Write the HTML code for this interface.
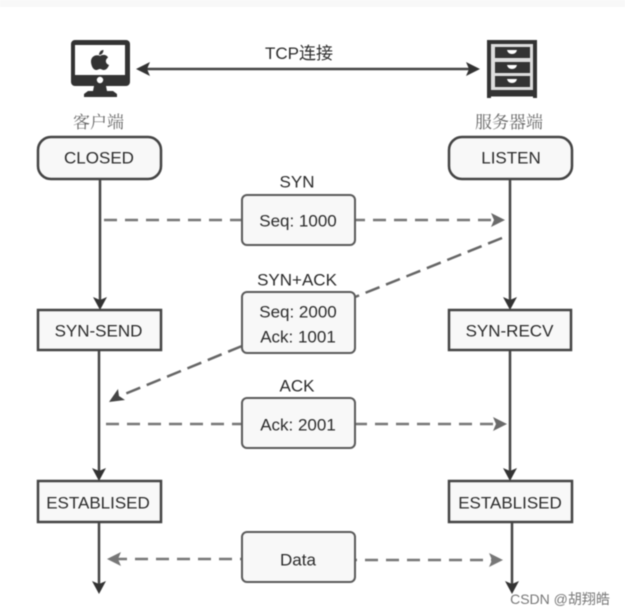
<!DOCTYPE html>
<html>
<head>
<meta charset="utf-8">
<style>
html,body{margin:0;padding:0;background:#fff;width:625px;height:616px;overflow:hidden}
svg{display:block;filter:blur(.5px)}
text{font-family:"Liberation Sans","Noto Sans CJK SC",sans-serif;fill:#2b2b2b;text-anchor:middle}
.b{fill:#f8f8f8;stroke:#444;stroke-width:2.500}
.m{fill:#f8f8f8;stroke:#5a5a5a;stroke-width:2}
.l{stroke:#444;stroke-width:2.500;fill:none}
.d{stroke:#777;stroke-width:2.500;fill:none;stroke-dasharray:13 8}
.dd{stroke:#666;stroke-width:2.500;fill:none;stroke-dasharray:15 7}
.c{fill:#666;font-family:"Noto Serif CJK SC","Liberation Serif",serif}
</style>
</head>
<body>
<svg width="625" height="616" viewBox="0 0 625 616" xmlns="http://www.w3.org/2000/svg">
<rect x="0" y="0" width="625" height="7" fill="#f8f8f8"/>

<!-- monitor -->
<rect x="71" y="40" width="59" height="46" rx="4" fill="#333"/>
<rect x="75" y="45" width="50" height="30" fill="#fff"/>
<circle cx="100" cy="80" r="3.200" fill="#fff"/>
<path d="M94 86h12l1 5h6l4 3v3H84v-3l4-3h5z" fill="#333"/>
<path d="M100 56c3-2 7-1 8 1.500c-3 2-3 6 1 7.500c-1 3-3 5-5 5c-2 0-2.500-1-4-1s-2 1-4 1c-3 0-5-5-5-8.500c0-5 5-7.500 9-5.500z" fill="#333"/>
<path d="M99 55c0-3 2-5 4.500-5c0 3-2 5-4.500 5z" fill="#333"/>

<!-- cabinet -->
<rect x="487" y="40" width="50" height="58" fill="#333"/>
<rect x="491" y="44" width="42" height="46" fill="#ddd"/>
<rect x="495" y="47" width="35" height="11" fill="#333"/>
<rect x="495" y="62" width="35" height="11" fill="#333"/>
<rect x="495" y="76" width="35" height="11" fill="#333"/>
<path d="M507 50h10q-1 4-5 4t-5-4zM507 65h10q-1 4-5 4t-5-4zM507 79h10q-1 4-5 4t-5-4z" fill="#fff"/>
<rect x="491" y="96.500" width="42" height="2" fill="#fff"/>

<!-- TCP arrow -->
<line class="l" x1="145" y1="69" x2="472" y2="69"/>
<path d="M136 69l14-7-3 7 3 7z" fill="#333"/>
<path d="M480 69l-14-7 3 7-3 7z" fill="#333"/>
<text x="299" y="59" font-size="17">TCP连接</text>

<text x="98.500" y="128" font-size="17" class="c" style="fill:#666">客户端</text>
<text x="509" y="128" font-size="17" class="c" style="fill:#666">服务器端</text>

<!-- vertical lines -->
<line class="l" x1="100" y1="179" x2="100" y2="300"/>
<path d="M100 310l-7-13 7 3 7-3z" fill="#333"/>
<line class="l" x1="510" y1="179" x2="510" y2="300"/>
<path d="M510 310l-7-13 7 3 7-3z" fill="#333"/>
<line class="l" x1="99" y1="350" x2="99" y2="471"/>
<path d="M99 481l-7-13 7 3 7-3z" fill="#333"/>
<line class="l" x1="510" y1="350" x2="510" y2="471"/>
<path d="M510 481l-7-13 7 3 7-3z" fill="#333"/>
<line class="l" x1="99" y1="522" x2="99" y2="584"/>
<path d="M99 594l-7-13 7 3 7-3z" fill="#333"/>
<line class="l" x1="512" y1="522" x2="512" y2="584"/>
<path d="M512 594l-7-13 7 3 7-3z" fill="#333"/>

<!-- dashed -->
<line class="d" x1="104" y1="220" x2="242" y2="220"/>
<line class="d" x1="355" y1="220" x2="494" y2="220" stroke-dashoffset="3"/>
<path d="M505 220l-14-7 3 7-3 7z" fill="#6a6a6a"/>
<line class="dd" x1="502" y1="238" x2="355" y2="297"/>
<line class="dd" x1="242" y1="346" x2="120" y2="396"/>
<path d="M109 402l9-13 1 7 6 4z" fill="#444"/>
<line class="d" x1="106" y1="424" x2="242" y2="424"/>
<line class="d" x1="355" y1="424" x2="496" y2="424" stroke-dashoffset="1"/>
<path d="M507 424l-14-7 3 7-3 7z" fill="#6a6a6a"/>
<line class="d" x1="114" y1="559" x2="242" y2="559"/>
<path d="M107 559l14-7-3 7 3 7z" fill="#777"/>
<line class="d" x1="355" y1="560" x2="492" y2="560" stroke-dashoffset="11"/>
<path d="M503 560l-14-7 3 7-3 7z" fill="#777"/>

<!-- state boxes -->
<rect class="b" x="38" y="137" width="123" height="42" rx="13"/>
<text x="99" y="163.500" font-size="17">CLOSED</text>
<rect class="b" x="449" y="137" width="123" height="42" rx="13"/>
<text x="511" y="163.500" font-size="17">LISTEN</text>
<rect class="b" x="38" y="310" width="123" height="40"/>
<text x="98.500" y="336.500" font-size="17">SYN-SEND</text>
<rect class="b" x="449" y="310" width="122" height="40"/>
<text x="509.500" y="336.500" font-size="17">SYN-RECV</text>
<rect class="b" x="38" y="481" width="123" height="41"/>
<text x="98" y="508.500" font-size="17">ESTABLISED</text>
<rect class="b" x="449" y="481" width="123" height="41"/>
<text x="510" y="508.500" font-size="17">ESTABLISED</text>

<!-- message boxes -->
<text x="297" y="187.500" font-size="17">SYN</text>
<rect class="m" x="242" y="195" width="113" height="50" rx="5"/>
<text x="298" y="226.500" font-size="17">Seq: 1000</text>

<text x="297" y="285.500" font-size="17">SYN+ACK</text>
<rect class="m" x="242" y="292" width="113" height="61" rx="5"/>
<text x="298" y="317.500" font-size="17">Seq: 2000</text>
<text x="298" y="342.500" font-size="17">Ack: 1001</text>

<text x="297" y="391.500" font-size="17">ACK</text>
<rect class="m" x="242" y="398" width="113" height="50" rx="5"/>
<text x="298" y="430.500" font-size="17">Ack: 2001</text>

<rect class="m" x="242" y="532" width="113" height="50" rx="5"/>
<text x="298" y="565.500" font-size="17">Data</text>

<text x="560" y="604" font-size="14" style="fill:#777">CSDN @胡翔皓</text>
</svg>
</body>
</html>
